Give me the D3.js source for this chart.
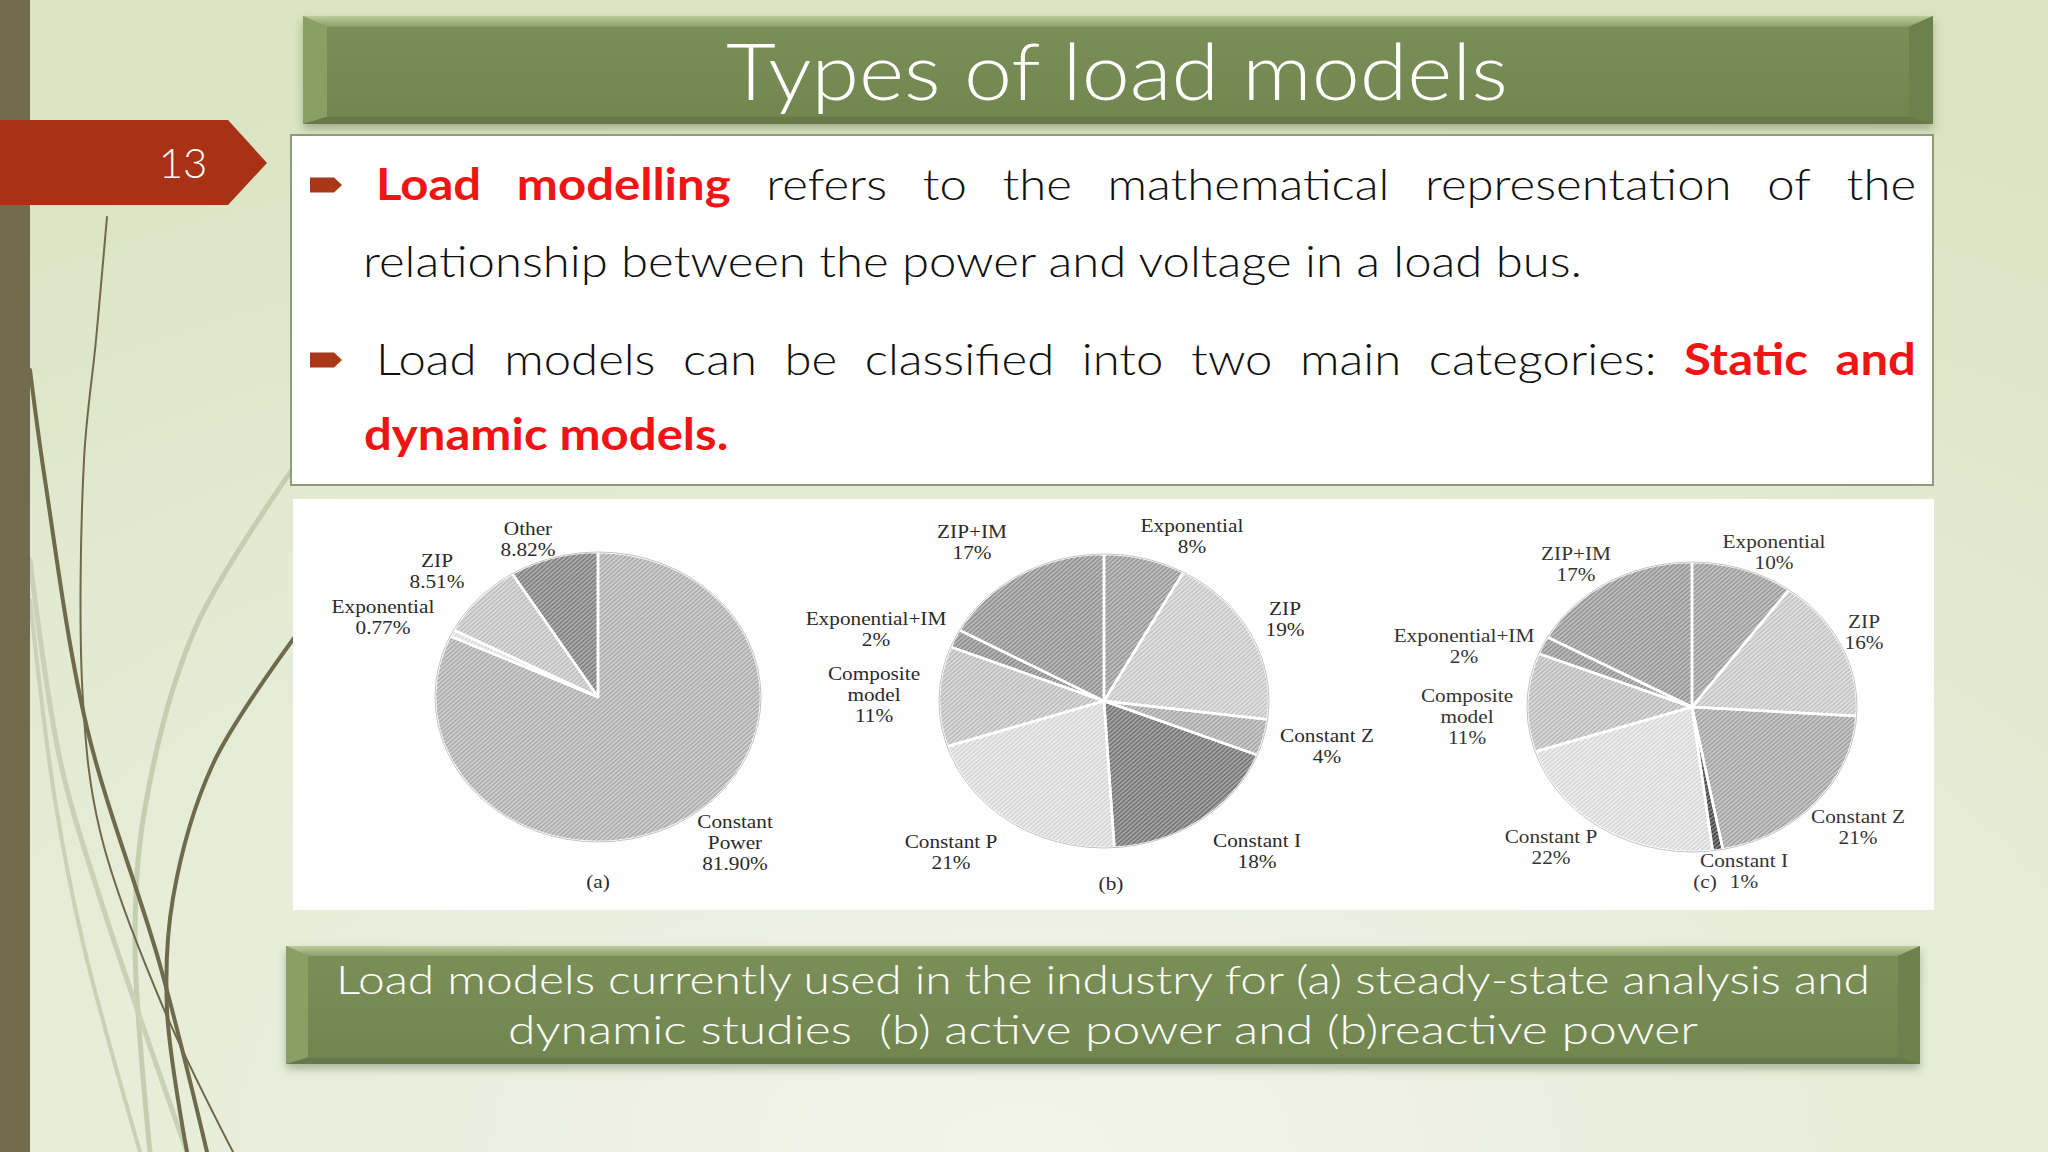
<!DOCTYPE html>
<html>
<head>
<meta charset="utf-8">
<script src="https://cdn.jsdelivr.net/npm/d3@7"></script>
<style>
html, body { margin: 0; padding: 0; overflow: hidden; background: #e3eacf; }
text { white-space: pre; }
</style>
</head>
<body>
<svg id="slide" width="2048" height="1152"></svg>
<script>
// chart (a): steady-state analysis and dynamic studies
var labelsA = ["Constant Power", "Exponential", "ZIP", "Other"];
var valuesA = [81.90, 0.77, 8.51, 8.82];

// chart (b) active power, chart (c) reactive power
var labelsBC = ["Exponential", "ZIP", "Constant Z", "Constant I", "Constant P", "Composite model", "Exponential+IM", "ZIP+IM"];
var valuesB = [8, 19, 4, 18, 21, 11, 2, 17];
var valuesC = [10, 16, 21, 1, 22, 11, 2, 17];

var titleText = "Types of load models";
var captionLines = ["Load models currently used in the industry for (a) steady-state analysis and",
                    "dynamic studies  (b) active power and (b)reactive power"];

(function () {
    "use strict";

    var svg = d3.select("#slide");
    var defs = svg.append("defs");
    var sans = "Lato, 'Open Sans', 'DejaVu Sans', sans-serif";
    var serif = "'Liberation Serif', 'DejaVu Serif', serif";
    var red = "#f01414";

    // ---------- defs ----------
    var bg = defs.append("radialGradient").attr("id", "bg")
        .attr("cx", "0.5").attr("cy", "1").attr("r", "1.0");
    bg.append("stop").attr("offset", "0").attr("stop-color", "#f2f4ea");
    bg.append("stop").attr("offset", "1").attr("stop-color", "#dae4c3");

    var face = defs.append("linearGradient").attr("id", "face")
        .attr("x1", 0).attr("y1", 0).attr("x2", 0).attr("y2", 1);
    face.append("stop").attr("offset", "0").attr("stop-color", "#7b9058");
    face.append("stop").attr("offset", "1").attr("stop-color", "#71864f");

    var topBev = defs.append("linearGradient").attr("id", "topBev")
        .attr("x1", 0).attr("y1", 0).attr("x2", 0).attr("y2", 1);
    topBev.append("stop").attr("offset", "0").attr("stop-color", "#bccb9c");
    topBev.append("stop").attr("offset", "1").attr("stop-color", "#8ca068");

    var shadow = defs.append("filter").attr("id", "shadow")
        .attr("x", "-5%").attr("y", "-20%").attr("width", "110%").attr("height", "150%");
    shadow.append("feDropShadow").attr("dx", 0).attr("dy", 5).attr("stdDeviation", 4)
        .attr("flood-color", "#3d4a28").attr("flood-opacity", 0.35);

    var tex = defs.append("pattern").attr("id", "tex")
        .attr("width", 3).attr("height", 3)
        .attr("patternUnits", "userSpaceOnUse")
        .attr("patternTransform", "rotate(45)");
    tex.append("rect").attr("width", 1.1).attr("height", 3).attr("fill", "rgba(255,255,255,0.40)");
    tex.append("rect").attr("x", 1.6).attr("width", 0.8).attr("height", 3).attr("fill", "rgba(0,0,0,0.10)");

    // ---------- background ----------
    svg.append("rect").attr("width", 2048).attr("height", 1152).attr("fill", "url(#bg)");

    // decorative grass strokes
    var curve = d3.line().curve(d3.curveCatmullRom.alpha(0.5));
    var strokes = [
        {c: "#c5ceb0", w: 5, p: [[292, 470], [195, 629], [145, 808], [135, 943], [150, 1152]]},
        {c: "#c9d1b6", w: 5, p: [[30, 560], [60, 760], [100, 898], [187, 1152]]},
        {c: "#c9d1b6", w: 4, p: [[30, 600], [55, 800], [83, 943], [140, 1152]]},
        {c: "#6f6a4c", w: 2, p: [[107, 217], [96, 340], [84, 460], [83, 701], [100, 831], [160, 1000], [233, 1152]]},
        {c: "#6f6a4c", w: 4, p: [[30, 370], [45, 480], [87, 728], [160, 965], [207, 1152]]},
        {c: "#6f6a4c", w: 4, p: [[300, 630], [213, 764], [173, 898], [167, 1010], [187, 1152]]}
    ];
    svg.selectAll("path.grass").data(strokes).enter().append("path")
        .attr("class", "grass")
        .attr("d", function (d) { return curve(d.p); })
        .attr("fill", "none")
        .attr("stroke", function (d) { return d.c; })
        .attr("stroke-width", function (d) { return d.w; })
        .attr("stroke-linecap", "round");

    // left bar
    svg.append("rect").attr("x", 0).attr("y", 0).attr("width", 30).attr("height", 1152).attr("fill", "#726b4e");

    // page number tag
    svg.append("path")
        .attr("d", "M0,120 L228,120 L267,163 L228,205 L0,205 Z")
        .attr("fill", "#a93116");
    svg.append("text").attr("x", 183).attr("y", 178)
        .attr("text-anchor", "middle").attr("fill", "#fff")
        .attr("font-family", sans).attr("font-weight", 300).attr("font-size", 42)
        .text("13");

    // bevelled green box
    function bevelBox(x, y, w, h, b) {
        var g = svg.append("g").attr("filter", "url(#shadow)");
        g.append("rect").attr("x", x).attr("y", y).attr("width", w).attr("height", h).attr("fill", "url(#face)");
        g.append("path").attr("fill", "url(#topBev)")
            .attr("d", "M" + x + "," + y + "L" + (x + w) + "," + y + "L" + (x + w - b) + "," + (y + b * 0.45) +
                "L" + (x + b) + "," + (y + b * 0.45) + "Z");
        g.append("path").attr("fill", "#88a064")
            .attr("d", "M" + x + "," + y + "L" + (x + b) + "," + (y + b * 0.45) + "L" + (x + b) + "," + (y + h - b * 0.3) +
                "L" + x + "," + (y + h) + "Z");
        g.append("path").attr("fill", "#6d814d")
            .attr("d", "M" + (x + w) + "," + y + "L" + (x + w) + "," + (y + h) + "L" + (x + w - b) + "," + (y + h - b * 0.3) +
                "L" + (x + w - b) + "," + (y + b * 0.45) + "Z");
        g.append("path").attr("fill", "#67794a")
            .attr("d", "M" + x + "," + (y + h) + "L" + (x + w) + "," + (y + h) + "L" + (x + w - b) + "," + (y + h - b * 0.3) +
                "L" + (x + b) + "," + (y + h - b * 0.3) + "Z");
        return g;
    }

    // title
    bevelBox(303, 16, 1630, 108, 24);
    svg.append("text").attr("x", 1117).attr("y", 100)
        .attr("text-anchor", "middle").attr("fill", "#fff")
        .attr("font-family", sans).attr("font-weight", 300).attr("font-size", 78)
        .attr("textLength", 782).attr("lengthAdjust", "spacingAndGlyphs")
        .text(titleText);

    // bullet text box
    svg.append("rect").attr("x", 291).attr("y", 135).attr("width", 1642).attr("height", 350)
        .attr("fill", "#fff").attr("stroke", "#8c9b78").attr("stroke-width", 2);

    function bullet(cy) {
        svg.append("path").attr("fill", "#a83818")
            .attr("d", "M310," + (cy - 7.5) + "L334," + (cy - 7.5) + "L342," + cy + "L334," + (cy + 7.5) + "L310," + (cy + 7.5) + "Z");
    }
    bullet(185);
    bullet(360);

    var fs = 44;
    // line 2 sets the horizontal stretch for the body font
    var line2 = svg.append("text").attr("x", 363).attr("y", 277)
        .attr("font-family", sans).attr("font-size", fs).attr("font-weight", 300).attr("fill", "#111")
        .text("relationship between the power and voltage in a load bus.");
    var k = 1219 / line2.node().getComputedTextLength();
    line2.attr("textLength", 1219).attr("lengthAdjust", "spacingAndGlyphs");

    function justify(y, x0, x1, words) {
        var nodes = words.map(function (w) {
            return svg.append("text").attr("y", y)
                .attr("font-family", sans).attr("font-size", fs)
                .attr("font-weight", w.b ? 700 : 300)
                .attr("fill", w.b ? red : "#111")
                .text(w.t);
        });
        var widths = nodes.map(function (n) { return n.node().getComputedTextLength() * k; });
        var gap = (x1 - x0 - d3.sum(widths)) / (nodes.length - 1);
        var x = x0;
        nodes.forEach(function (n, i) {
            n.attr("x", x).attr("textLength", widths[i]).attr("lengthAdjust", "spacingAndGlyphs");
            x += widths[i] + gap;
        });
    }
    function words(str, boldFrom, boldTo) {
        return str.split(" ").map(function (t, i) { return {t: t, b: i >= boldFrom && i < boldTo}; });
    }
    justify(200, 376, 1916, words("Load modelling refers to the mathematical representation of the", 0, 2));
    justify(375, 376, 1916, words("Load models can be classified into two main categories: Static and", 9, 11));

    var line4 = svg.append("text").attr("x", 364).attr("y", 450)
        .attr("font-family", sans).attr("font-size", fs).attr("font-weight", 700).attr("fill", red)
        .text("dynamic models.");
    line4.attr("textLength", line4.node().getComputedTextLength() * k).attr("lengthAdjust", "spacingAndGlyphs");

    // chart panel
    svg.append("rect").attr("x", 293).attr("y", 499).attr("width", 1641).attr("height", 411).attr("fill", "#fefefe");

    // ---------- pies ----------
    var wrapped = {"Constant Power": ["Constant", "Power"], "Composite model": ["Composite", "model"]};
    var stretch = 1.12;

    function drawPie(cfg) {
        var pie = d3.pie().sort(null).value(function (d) { return d; });
        var arcs = pie(cfg.values);
        var arc = d3.arc().innerRadius(0).outerRadius(cfg.ry);

        var g = svg.append("g")
            .attr("transform", "translate(" + cfg.cx + "," + cfg.cy + ") scale(" + (cfg.rx / cfg.ry) + ",1)");

        g.selectAll("path.slice").data(arcs).enter().append("path")
            .attr("class", "slice")
            .attr("d", arc)
            .attr("fill", function (d, i) { return cfg.shades[i]; });
        g.selectAll("path.tex").data(arcs).enter().append("path")
            .attr("class", "tex")
            .attr("d", arc)
            .attr("fill", "url(#tex)");
        g.selectAll("path.sep").data(arcs).enter().append("path")
            .attr("class", "sep")
            .attr("d", arc)
            .attr("fill", "none")
            .attr("stroke", "#fff")
            .attr("stroke-width", 2.5)
            .attr("stroke-linejoin", "round")
            .attr("vector-effect", "non-scaling-stroke");
        g.append("circle").attr("r", cfg.ry).attr("fill", "none")
            .attr("stroke", "#b4b4b4").attr("stroke-width", 0.8)
            .attr("vector-effect", "non-scaling-stroke");

        var fmt = d3.format(cfg.fmt);
        cfg.labels.forEach(function (lab, i) {
            var lines = (wrapped[lab] || [lab]).concat([fmt(cfg.values[i]) + "%"]);
            var off = cfg.offsets[i];
            var t = svg.append("g")
                .attr("transform", "translate(" + (cfg.cx + off[0]) + "," + (cfg.cy + off[1]) + ") scale(" + stretch + ",1)")
                .append("text")
                .attr("text-anchor", "middle")
                .attr("font-family", serif).attr("font-size", 19)
                .attr("fill", cfg.ink);
            t.selectAll("tspan").data(lines).enter().append("tspan")
                .attr("x", 0)
                .attr("y", function (d, j) { return j * 21; })
                .text(function (d) { return d; });
        });

        svg.append("g")
            .attr("transform", "translate(" + (cfg.cx + cfg.tagOffset[0]) + "," + (cfg.cy + cfg.tagOffset[1]) + ") scale(" + stretch + ",1)")
            .append("text").attr("text-anchor", "middle")
            .attr("font-family", serif).attr("font-size", 19).attr("fill", cfg.ink)
            .text(cfg.tag);
    }

    drawPie({
        cx: 598, cy: 697, rx: 163, ry: 145,
        labels: labelsA, values: valuesA, fmt: ".2f",
        shades: ["#b9b9b9", "#e6e6e6", "#cbcbcb", "#8a8a8a"],
        offsets: [[137, 131], [-215, -84], [-161, -130], [-70, -162]],
        tag: "(a)", tagOffset: [0, 191], ink: "#2b2b2b"
    });
    drawPie({
        cx: 1104, cy: 701, rx: 165, ry: 147,
        labels: labelsBC, values: valuesB, fmt: "d",
        shades: ["#a3a3a3", "#d3d3d3", "#b3b3b3", "#7e7e7e", "#e3e3e3", "#c9c9c9", "#989898", "#9c9c9c"],
        offsets: [[88, -169], [181, -86], [223, 41], [153, 146], [-153, 147], [-230, -21], [-228, -76], [-132, -163]],
        tag: "(b)", tagOffset: [7, 189], ink: "#2b2b2b"
    });
    drawPie({
        cx: 1692, cy: 707, rx: 165, ry: 145,
        labels: labelsBC, values: valuesC, fmt: "d",
        shades: ["#a7a7a7", "#d1d1d1", "#afafaf", "#4e4e4e", "#e5e5e5", "#c7c7c7", "#9f9f9f", "#a1a1a1"],
        offsets: [[82, -159], [172, -79], [166, 116], [52, 160], [-141, 136], [-225, -5], [-228, -65], [-116, -147]],
        tag: "(c)", tagOffset: [13, 181], ink: "#353535"
    });

    // caption
    bevelBox(286, 946, 1634, 118, 22);
    var capWidths = [1534, 1190];
    svg.selectAll("text.cap").data(captionLines).enter().append("text")
        .attr("class", "cap")
        .attr("x", 1103)
        .attr("y", function (d, i) { return 994 + i * 50; })
        .attr("text-anchor", "middle").attr("fill", "#fff")
        .attr("font-family", sans).attr("font-weight", 300).attr("font-size", 40)
        .attr("textLength", function (d, i) { return capWidths[i]; })
        .attr("lengthAdjust", "spacingAndGlyphs")
        .text(function (d) { return d; });
}());
</script>
</body>
</html>
